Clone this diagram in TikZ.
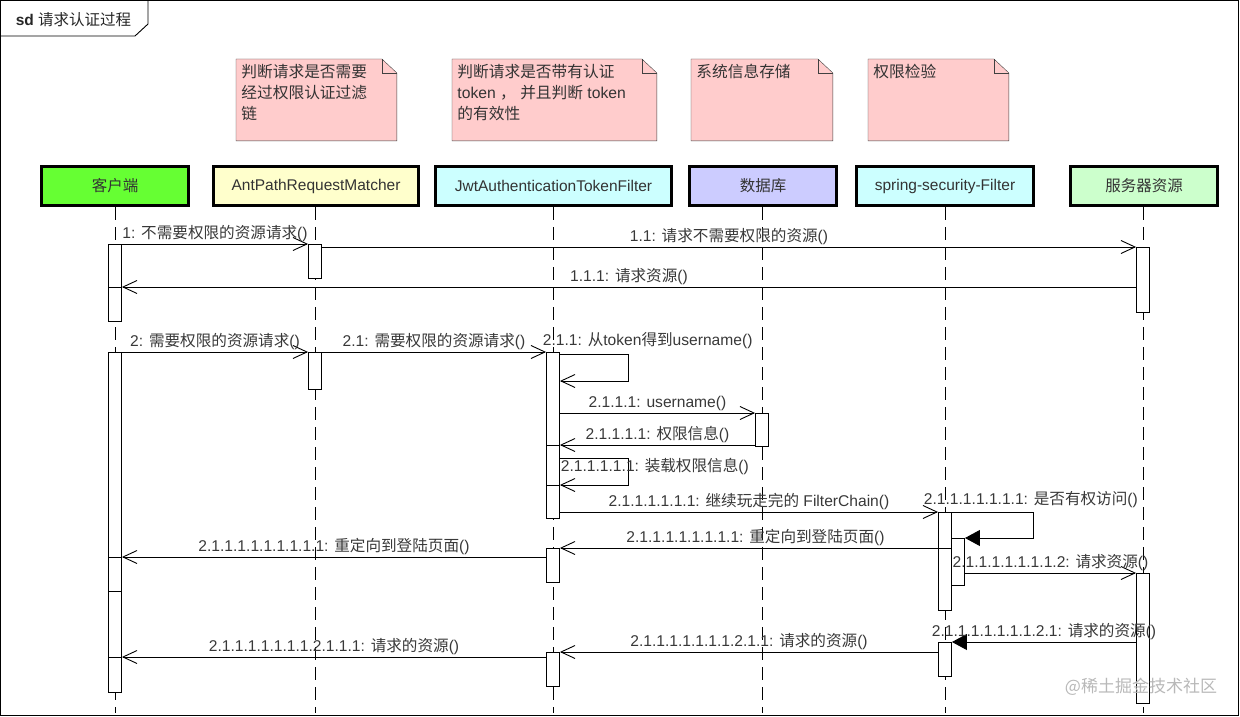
\documentclass[tikz,border=0pt]{standalone}
\usepackage{fontspec}
\setmainfont{Liberation Sans}
\newfontfamily\cjkf{Noto Sans CJK SC}
\newcommand\zh[1]{{\cjkf #1}}
\usetikzlibrary{arrows.meta,backgrounds}
\definecolor{clientgreen}{HTML}{66FF33}
\definecolor{matcheryellow}{HTML}{FFFFCC}
\definecolor{filtercyan}{HTML}{CCFFFF}
\definecolor{dbblue}{HTML}{CCCCFF}
\definecolor{resgreen}{HTML}{CCFFCC}
\definecolor{notepink}{HTML}{FFCCCC}
\tikzset{
	basic/.style = {draw, font=\fontsize{15.5}{18}\selectfont, text=black!80, rectangle},
	head/.style  = {basic, line width=2.8pt, minimum height=39pt, inner sep=0pt},
	note/.style  = {font=\fontsize{15.7}{21}\selectfont, text=black!80, inner sep=5pt,
		anchor=north west},
	act/.style   = {draw, fill=white, minimum width=13pt, inner sep=0pt, anchor=north},
	life/.style  = {dash pattern=on 13pt off 7pt},
	msg/.style   = {draw, -{Straight Barb[length=14pt,width=13pt]}},
	sync/.style  = {draw, -{Triangle[length=15pt,width=16pt]}},
	lbl/.style   = {font=\fontsize{15.6}{17}\selectfont, text=black!78, inner sep=1.5pt}
}
\begin{document}
\begin{tikzpicture}[x=1pt, y=-1pt, line width=0.9pt]
\useasboundingbox (0,0) rectangle (1240,717);

% frame and title tab
\draw (0.5,0.5) rectangle (1238,715);
\draw (0.5,36) -- (135,36) -- (148,24) -- (148,0.5);
\node[anchor=west, font=\fontsize{15.5}{18}\selectfont, text=black!85] (title) at (12,20)
	{\textbf{sd} \zh{请求认证过程}};

% notes above the lifelines
\node[note] (n1) at (236,59) {\parbox[t][71pt][t]{150pt}{\zh{判断请求是否需要}\\\zh{经过权限认证过滤}\\\zh{链}}};
\node[note] (n2) at (452,59) {\parbox[t][71pt][t]{194pt}{\zh{判断请求是否带有认证}\\token \zh{，} \zh{并且判断} token\\\zh{的有效性}}};
\node[note] (n3) at (691,59) {\parbox[t][71pt][t]{131pt}{\zh{系统信息存储}}};
\node[note] (n4) at (868,59) {\parbox[t][71pt][t]{130pt}{\zh{权限检验}}};
\begin{scope}[on background layer]
\foreach \n in {n1,n2,n3,n4} {
	\draw[fill=notepink, draw=black!75] (\n.south west) -- (\n.north west)
		-- ([xshift=-15pt]\n.north east) -- ([yshift=-14pt]\n.north east)
		-- (\n.south east) -- cycle;
	\draw[draw=black!75] ([xshift=-15pt]\n.north east) -- ([xshift=-15pt,yshift=-14pt]\n.north east)
		-- ([yshift=-14pt]\n.north east);
}
\end{scope}

% lifeline heads
\node[head, fill=clientgreen, minimum width=147pt] (client) at (115,186) {\zh{客户端}};
\node[head, fill=matcheryellow, minimum width=205pt] (matcher) at (316,186) {AntPathRequestMatcher};
\node[head, fill=filtercyan, minimum width=236pt] (jwt) at (553.5,186) {JwtAuthenticationTokenFilter};
\node[head, fill=dbblue, minimum width=147pt] (db) at (763,186) {\zh{数据库}};
\node[head, fill=filtercyan, minimum width=177pt] (sec) at (945,186) {spring-security-Filter};
\node[head, fill=resgreen, minimum width=147pt] (res) at (1144,186) {\zh{服务器资源}};

% lifelines
\foreach \h/\x in {client/115,matcher/315,jwt/553,db/762,sec/945,res/1143}
	\draw[life] (\x,207) -- (\x,713);

% activation bars
\foreach \nm/\x/\ya/\yb in {aC1/115/244/287, aC2/115/287/321, aC3/115/352/557, aC4/115/557/591,
		aC5/115/591/657, aC6/115/657/692, aM1/315/244/278, aM2/315/352/389,
		aJ1/553/352/445, aJ2/553/445/485, aJ3/553/485/518, aJ4/553/548/582, aJ5/553/652/686,
		aD1/762/413/446, aS1/945/512/610, aS2/958/538/585, aS3/945/642/676,
		aR1/1143/247/312, aR2/1143/573/703}
	\node[act, minimum height={(\yb-\ya)*1pt}] (\nm) at (\x,\ya) {};

% messages without permission
\draw[msg] (aC1.north east) -- node[lbl, above] {1: \zh{不需要权限的资源请求}()} (aM1.north west);
\draw[msg] (aM1.east |- aR1.north) -- node[lbl, above] {1.1: \zh{请求不需要权限的资源}()} (aR1.north west);
\draw[msg] (aR1.west |- aC2.north) -- node[lbl, above] {1.1.1: \zh{请求资源}()} (aC2.north east);

% messages with permission
\draw[msg] (aC3.north east) -- node[lbl, above] {2: \zh{需要权限的资源请求}()} (aM2.north west);
\draw[msg] (aM2.north east) -- node[lbl, above] {2.1: \zh{需要权限的资源请求}()} (aJ1.north west);
\draw[msg] (aJ1.east |- 0,354) -- (628,354) |- (aJ1.east |- 0,381);
\node[lbl, anchor=south west] (l211) at (541,351) {2.1.1: \zh{从}token\zh{得到}username()};
\draw[msg] (aJ1.east |- 0,413) -- node[lbl, above] {2.1.1.1: username()} (aD1.north west);
\draw[msg] (aD1.west |- aJ2.north) -- node[lbl, above] {2.1.1.1.1: \zh{权限信息}()} (aJ2.north east);
\draw[msg] (aJ2.east |- 0,458) -- (628,458) |- (aJ3.north east);
\node[lbl, anchor=west] (l21111) at (559,466) {2.1.1.1.1.1: \zh{装载权限信息}()};
\draw[msg] (aJ3.east |- aS1.north) -- node[lbl, above] {2.1.1.1.1.1.1: \zh{继续玩走完的} FilterChain()} (aS1.north west);
\draw[sync] (aS1.north east) -- (1033,512) |- (aS2.north east);
\node[lbl, anchor=south west] (l2111111) at (922,510) {2.1.1.1.1.1.1.1: \zh{是否有权访问}()};
\draw[msg] (aS2.west |- aJ4.north) -- node[lbl, above] {2.1.1.1.1.1.1.1.1: \zh{重定向到登陆页面}()} (aJ4.north east);
\draw[msg] (aJ4.west |- aC4.north) -- node[lbl, above] {2.1.1.1.1.1.1.1.1.1: \zh{重定向到登陆页面}()} (aC4.north east);
\draw[msg] (aS2.east |- aR2.north) -- node[lbl, above] {2.1.1.1.1.1.1.1.2: \zh{请求资源}()} (aR2.north west);
\draw[sync] (aR2.west |- aS3.north) -- node[lbl, above] {2.1.1.1.1.1.1.1.2.1: \zh{请求的资源}()} (aS3.north east);
\draw[msg] (aS3.west |- aJ5.north) -- node[lbl, above] {2.1.1.1.1.1.1.1.2.1.1: \zh{请求的资源}()} (aJ5.north east);
\draw[msg] (aJ5.west |- aC6.north) -- node[lbl, above] {2.1.1.1.1.1.1.1.2.1.1.1: \zh{请求的资源}()} (aC6.north east);

% watermark
\node[font=\cjkf\fontsize{17}{17}\selectfont, text=black!28] (mark) at (1141,687) {@稀土掘金技术社区};
\end{tikzpicture}
\end{document}
